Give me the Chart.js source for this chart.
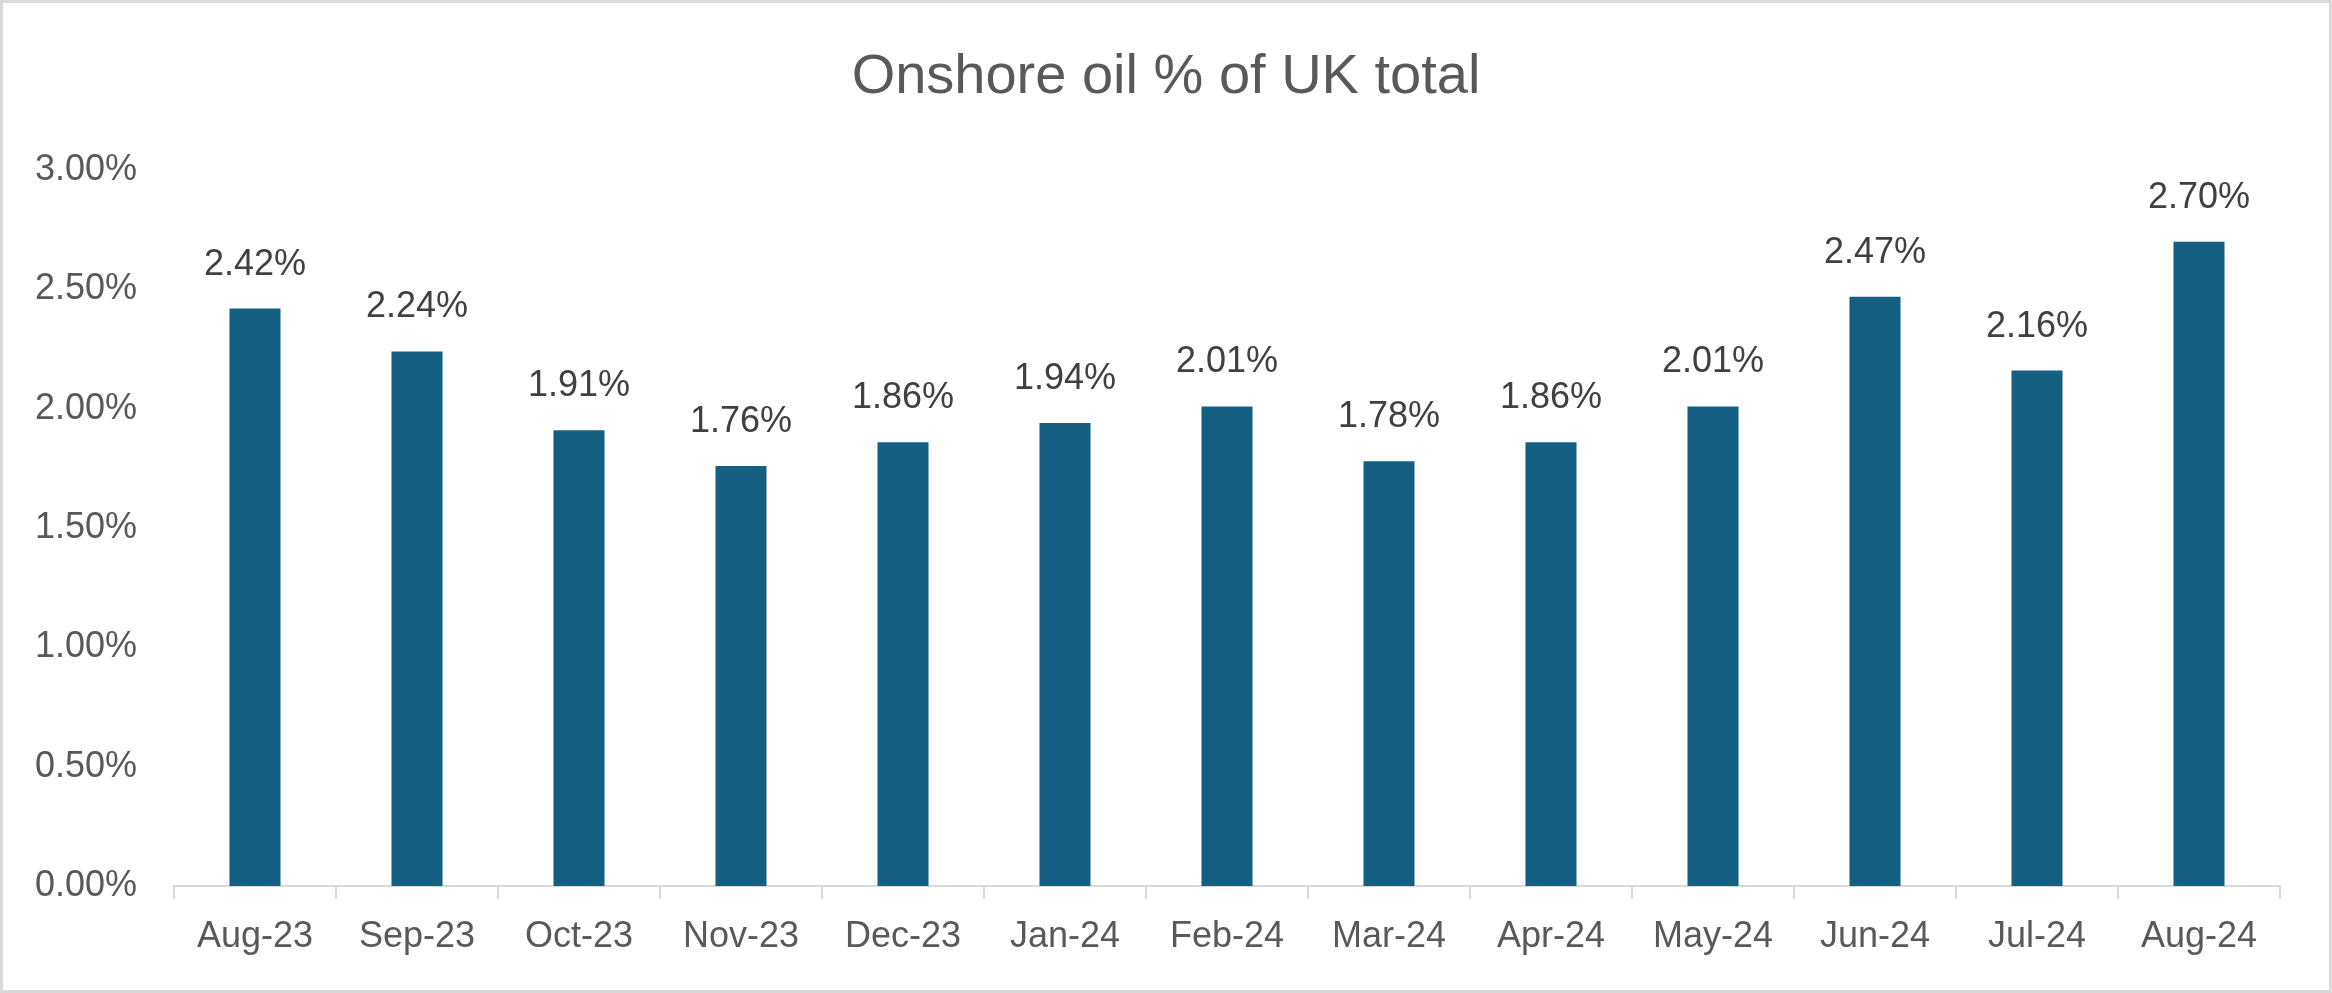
<!DOCTYPE html>
<html>
<head>
<meta charset="utf-8">
<title>Onshore oil % of UK total</title>
<script src="https://cdn.jsdelivr.net/npm/chart.js@4.4.1/dist/chart.umd.min.js"></script>
<style>
  html, body { margin: 0; padding: 0; background: #ffffff; }
  #wrap { width: 2332px; height: 993px; }
</style>
</head>
<body>
<div id="wrap"><canvas id="myChart" width="2332" height="993"></canvas></div>
<script>
// data
const months = ['Aug-23', 'Sep-23', 'Oct-23', 'Nov-23', 'Dec-23', 'Jan-24', 'Feb-24',
  'Mar-24', 'Apr-24', 'May-24', 'Jun-24', 'Jul-24', 'Aug-24'];
const onshoreShare = [2.42, 2.24, 1.91, 1.76, 1.86, 1.94, 2.01, 1.78, 1.86, 2.01, 2.47, 2.16, 2.70];
const yTicks = [0, 0.5, 1, 1.5, 2, 2.5, 3];

const FONT = "'Liberation Sans', Arial, sans-serif";
const barColor = '#156082';
const axisColor = '#d9d9d9';

const ctx = document.getElementById('myChart').getContext('2d');

// white background + thin grey frame round the whole picture
const framePlugin = {
  id: 'frame',
  beforeDraw(chart) {
    const c = chart.ctx;
    c.save();
    c.fillStyle = '#ffffff';
    c.fillRect(0, 0, chart.width, chart.height);
    c.strokeStyle = axisColor;
    c.lineWidth = 3;
    c.strokeRect(1.5, 1.5, chart.width - 3, chart.height - 3);
    c.restore();
  },
};

// value labels above each bar (no datalabels plugin available)
const valueLabels = {
  id: 'valueLabels',
  afterDatasetsDraw(chart) {
    const c = chart.ctx;
    const meta = chart.getDatasetMeta(0);
    c.save();
    c.font = `36px ${FONT}`;
    c.fillStyle = '#404040';
    c.textAlign = 'center';
    c.textBaseline = 'middle';
    meta.data.forEach((bar, i) => {
      const v = chart.data.datasets[0].data[i];
      c.fillText(v.toFixed(2) + '%', bar.x, bar.y - 44);
    });
    c.restore();
  },
};

const myChart = new Chart(ctx, {
  type: 'bar',
  data: {
    labels: months,
    datasets: [
      {
        label: 'Onshore oil % of UK total',
        data: onshoreShare,
        backgroundColor: barColor,
        borderWidth: 0,
        categoryPercentage: 1,
        barPercentage: 0.315,
      },
    ],
  },
  options: {
    responsive: false,
    animation: false,
    devicePixelRatio: 1,
    layout: {
      padding: 0,
    },
    plugins: {
      legend: { display: false },
      tooltip: { enabled: false },
      title: {
        display: true,
        text: 'Onshore oil % of UK total',
        color: '#595959',
        font: { family: FONT, size: 56, weight: 'normal', lineHeight: 1.2 },
        padding: { top: 44, bottom: 59 },
      },
    },
    scales: {
      x: {
        grid: {
          display: true,
          offset: true,
          drawOnChartArea: false,
          drawTicks: true,
          tickLength: 13,
          color: axisColor,
          lineWidth: 2,
        },
        border: { display: true, color: axisColor, width: 2 },
        ticks: {
          color: '#595959',
          padding: 16,
          maxRotation: 0,
          font: { family: FONT, size: 36 },
        },
        afterFit(scale) {
          scale.height = 107;
        },
      },
      y: {
        min: 0,
        max: 3,
        grid: { display: false, drawTicks: false },
        border: { display: false },
        afterBuildTicks(scale) {
          scale.ticks = yTicks.map((v) => ({ value: v }));
        },
        ticks: {
          color: '#595959',
          padding: 37,
          font: { family: FONT, size: 36 },
          callback: (v) => Number(v).toFixed(2) + '%',
        },
        afterFit(scale) {
          scale.width = 174;
        },
      },
      // empty right-hand axis, only keeps the right margin so the title stays centred
      yRight: {
        position: 'right',
        min: 0,
        max: 3,
        grid: { display: false, drawTicks: false },
        border: { display: false },
        ticks: { display: false },
        afterFit(scale) {
          scale.width = 52;
        },
      },
    },
  },
  plugins: [framePlugin, valueLabels],
});
</script>
</body>
</html>
